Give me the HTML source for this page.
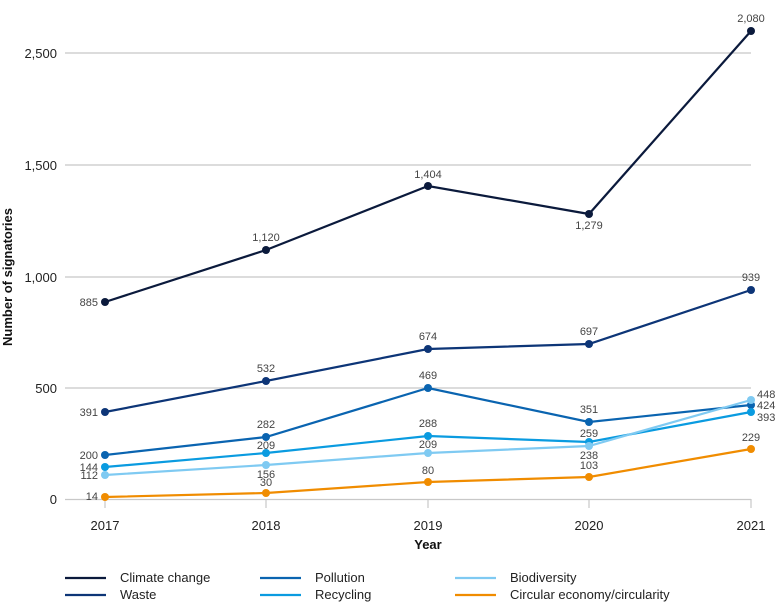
<!DOCTYPE html>
<html><head><meta charset="utf-8"><style>
body{margin:0;background:#fff;}
svg{display:block;font-family:"Liberation Sans",sans-serif;}
</style></head><body>
<svg width="780" height="604" viewBox="0 0 780 604">
<g stroke="#c8c8c8" stroke-width="1.2">
<line x1="65" y1="53" x2="751" y2="53"/>
<line x1="65" y1="165" x2="751" y2="165"/>
<line x1="65" y1="277" x2="751" y2="277"/>
<line x1="65" y1="388" x2="751" y2="388"/>
<line x1="65" y1="499.5" x2="751" y2="499.5"/>
<line x1="105" y1="499" x2="105" y2="508"/>
<line x1="266" y1="499" x2="266" y2="508"/>
<line x1="428" y1="499" x2="428" y2="508"/>
<line x1="589" y1="499" x2="589" y2="508"/>
<line x1="751" y1="499" x2="751" y2="508"/>
</g>
<g font-size="13" fill="#222" text-anchor="end">
<text x="57" y="58">2,500</text>
<text x="57" y="170">1,500</text>
<text x="57" y="282">1,000</text>
<text x="57" y="393">500</text>
<text x="57" y="504">0</text>
</g>
<g font-size="13" fill="#222" text-anchor="middle">
<text x="105" y="530">2017</text><text x="266" y="530">2018</text><text x="428" y="530">2019</text><text x="589" y="530">2020</text><text x="751" y="530">2021</text>
</g>
<text x="428" y="549" font-size="13" font-weight="bold" text-anchor="middle" fill="#111">Year</text>
<text transform="translate(12,277) rotate(-90)" font-size="13" font-weight="bold" text-anchor="middle" fill="#111">Number of signatories</text>
<g fill="none" stroke-width="2.2">
<polyline stroke="#0b1a3c" points="105,302 266,250 428,186 589,214 751,31"/>
<polyline stroke="#0d3577" points="105,412 266,381 428,349 589,344 751,290"/>
<polyline stroke="#0a64b0" points="105,455 266,437 428,388 589,422 751,405"/>
<polyline stroke="#0a9be0" points="105,467 266,453 428,436 589,442 751,412"/>
<polyline stroke="#7fcaf2" points="105,475 266,465 428,453 589,446 751,400"/>
<polyline stroke="#f08c00" points="105,497 266,493 428,482 589,477 751,449"/>
</g>
<g fill="#0b1a3c"><circle cx="105" cy="302" r="4"/><circle cx="266" cy="250" r="4"/><circle cx="428" cy="186" r="4"/><circle cx="589" cy="214" r="4"/><circle cx="751" cy="31" r="4"/></g>
<g fill="#0d3577"><circle cx="105" cy="412" r="4"/><circle cx="266" cy="381" r="4"/><circle cx="428" cy="349" r="4"/><circle cx="589" cy="344" r="4"/><circle cx="751" cy="290" r="4"/></g>
<g fill="#0a64b0"><circle cx="105" cy="455" r="4"/><circle cx="266" cy="437" r="4"/><circle cx="428" cy="388" r="4"/><circle cx="589" cy="422" r="4"/><circle cx="751" cy="405" r="4"/></g>
<g fill="#0a9be0"><circle cx="105" cy="467" r="4"/><circle cx="266" cy="453" r="4"/><circle cx="428" cy="436" r="4"/><circle cx="589" cy="442" r="4"/><circle cx="751" cy="412" r="4"/></g>
<g fill="#7fcaf2"><circle cx="105" cy="475" r="4"/><circle cx="266" cy="465" r="4"/><circle cx="428" cy="453" r="4"/><circle cx="589" cy="446" r="4"/><circle cx="751" cy="400" r="4"/></g>
<g fill="#f08c00"><circle cx="105" cy="497" r="4"/><circle cx="266" cy="493" r="4"/><circle cx="428" cy="482" r="4"/><circle cx="589" cy="477" r="4"/><circle cx="751" cy="449" r="4"/></g>
<g font-size="11" fill="#444">
<g text-anchor="end"><text x="98" y="306">885</text><text x="98" y="416">391</text><text x="98" y="459">200</text><text x="98" y="471">144</text><text x="98" y="479">112</text><text x="98" y="500">14</text></g>
<g text-anchor="middle">
<text x="266" y="241">1,120</text><text x="428" y="178">1,404</text><text x="589" y="229">1,279</text><text x="751" y="22">2,080</text>
<text x="266" y="372">532</text><text x="428" y="340">674</text><text x="589" y="335">697</text><text x="751" y="281">939</text>
<text x="266" y="428">282</text><text x="428" y="379">469</text><text x="589" y="413">351</text>
<text x="266" y="449">209</text><text x="428" y="427">288</text><text x="589" y="437">259</text>
<text x="266" y="478">156</text><text x="428" y="448">209</text><text x="589" y="459">238</text>
<text x="266" y="486">30</text><text x="428" y="474">80</text><text x="589" y="469">103</text><text x="751" y="441">229</text>
</g>
<g text-anchor="start"><text x="757" y="398">448</text><text x="757" y="409">424</text><text x="757" y="421">393</text></g>
</g>
<g stroke-width="2.2">
<line x1="65" y1="578" x2="106" y2="578" stroke="#0b1a3c"/>
<line x1="65" y1="595" x2="106" y2="595" stroke="#0d3577"/>
<line x1="260" y1="578" x2="301" y2="578" stroke="#0a64b0"/>
<line x1="260" y1="595" x2="301" y2="595" stroke="#0a9be0"/>
<line x1="455" y1="578" x2="496" y2="578" stroke="#7fcaf2"/>
<line x1="455" y1="595" x2="496" y2="595" stroke="#f08c00"/>
</g>
<g font-size="13" fill="#222">
<text x="120" y="582">Climate change</text><text x="120" y="599">Waste</text>
<text x="315" y="582">Pollution</text><text x="315" y="599">Recycling</text>
<text x="510" y="582">Biodiversity</text><text x="510" y="599">Circular economy/circularity</text>
</g>
</svg>
</body></html>
